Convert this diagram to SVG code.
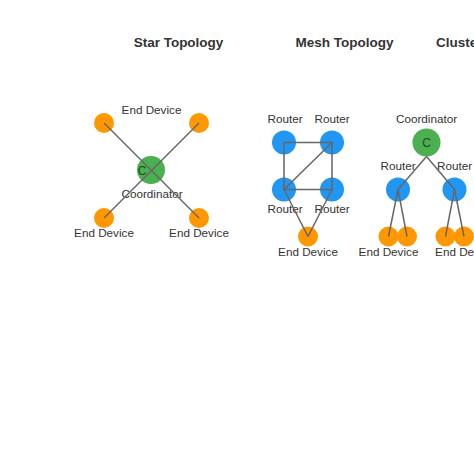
<svg xmlns="http://www.w3.org/2000/svg" width="474" height="474" viewBox="0 0 474 474">
<style>
.t{font-family:"Liberation Sans",Arial,sans-serif;font-size:13.5px;font-weight:bold;fill:#333}
.l{font-family:"Liberation Sans",Arial,sans-serif;font-size:11.7px;fill:#333;text-anchor:middle}
.c{font-family:"Liberation Sans",Arial,sans-serif;font-size:12px;fill:#1b4d1e}
.co{fill:#4caf50}
.ro{fill:#2196f3}
.en{fill:#ff9800}
.ln{stroke:#666;stroke-width:1.5;fill:none}
</style>
<rect width="474" height="474" fill="#fff"/>
<g id="titles">
<text class="t" x="178.5" y="47" text-anchor="middle">Star Topology</text>
<text class="t" x="344.5" y="47" text-anchor="middle">Mesh Topology</text>
<text class="t" x="436" y="47">Cluster Tree Topology</text>
</g>
<g id="star">
<g id="star-coord"><circle class="co" cx="151" cy="170" r="14"/><text class="c" x="142" y="175" text-anchor="middle">C</text><text class="l" x="152" y="198">Coordinator</text></g>
<g id="star-e1"><circle class="en" cx="104" cy="123" r="10"/></g>
<g id="star-e2"><circle class="en" cx="199" cy="123" r="10"/><text class="l" x="151.5" y="114">End Device</text></g>
<g id="star-e3"><circle class="en" cx="104" cy="218" r="10"/><text class="l" x="104" y="237">End Device</text></g>
<g id="star-e4"><circle class="en" cx="199" cy="218" r="10"/><text class="l" x="199" y="237">End Device</text></g>
</g>
<g id="mesh">
<g id="mesh-r1"><circle class="ro" cx="284" cy="142.5" r="12"/><text class="l" x="285" y="123">Router</text></g>
<g id="mesh-r2"><circle class="ro" cx="332" cy="142.5" r="12"/><text class="l" x="332" y="123">Router</text></g>
<g id="mesh-r3"><circle class="ro" cx="284" cy="189.5" r="12"/><text class="l" x="285" y="213">Router</text></g>
<g id="mesh-r4"><circle class="ro" cx="332" cy="189.5" r="12"/><text class="l" x="332" y="213">Router</text></g>
<g id="mesh-e"><circle class="en" cx="308" cy="236.5" r="10"/><text class="l" x="308" y="256">End Device</text></g>
</g>
<g id="cluster">
<g id="cl-coord"><circle class="co" cx="426.5" cy="142.5" r="14"/><text class="c" x="426.5" y="147" text-anchor="middle">C</text><text class="l" x="426.5" y="123">Coordinator</text></g>
<g id="cl-r1"><circle class="ro" cx="398" cy="189.5" r="12"/><text class="l" x="398" y="170">Router</text></g>
<g id="cl-r2"><circle class="ro" cx="454.5" cy="189.5" r="12"/><text class="l" x="454.5" y="170">Router</text></g>
<g id="cl-e1"><circle class="en" cx="388.5" cy="236.5" r="10"/><text class="l" x="388.5" y="256">End Device</text></g>
<g id="cl-e2"><circle class="en" cx="407" cy="236.5" r="10"/></g>
<g id="cl-e3"><circle class="en" cx="445.5" cy="236.5" r="10"/></g>
<g id="cl-e4"><circle class="en" cx="464" cy="236.5" r="10"/><text class="l" x="465" y="256">End Device</text></g>
</g>
<g id="connectors">
<line class="ln" x1="104" y1="123" x2="199" y2="218"/>
<line class="ln" x1="199" y1="123" x2="104" y2="218"/>
<polyline class="ln" points="284,142.5 332,142.5 332,189.5 284,189.5 284,142.5"/>
<line class="ln" x1="284" y1="189.5" x2="332" y2="142.5"/>
<line class="ln" x1="284" y1="189.5" x2="308" y2="236.5"/>
<line class="ln" x1="332" y1="189.5" x2="308" y2="236.5"/>
<line class="ln" x1="426.5" y1="156.5" x2="398" y2="189.5"/>
<line class="ln" x1="426.5" y1="156.5" x2="454.5" y2="189.5"/>
<line class="ln" x1="398" y1="189.5" x2="388.5" y2="236.5"/>
<line class="ln" x1="398" y1="189.5" x2="407" y2="236.5"/>
<line class="ln" x1="454.5" y1="189.5" x2="445.5" y2="236.5"/>
<line class="ln" x1="454.5" y1="189.5" x2="464" y2="236.5"/>
</g>
</svg>
